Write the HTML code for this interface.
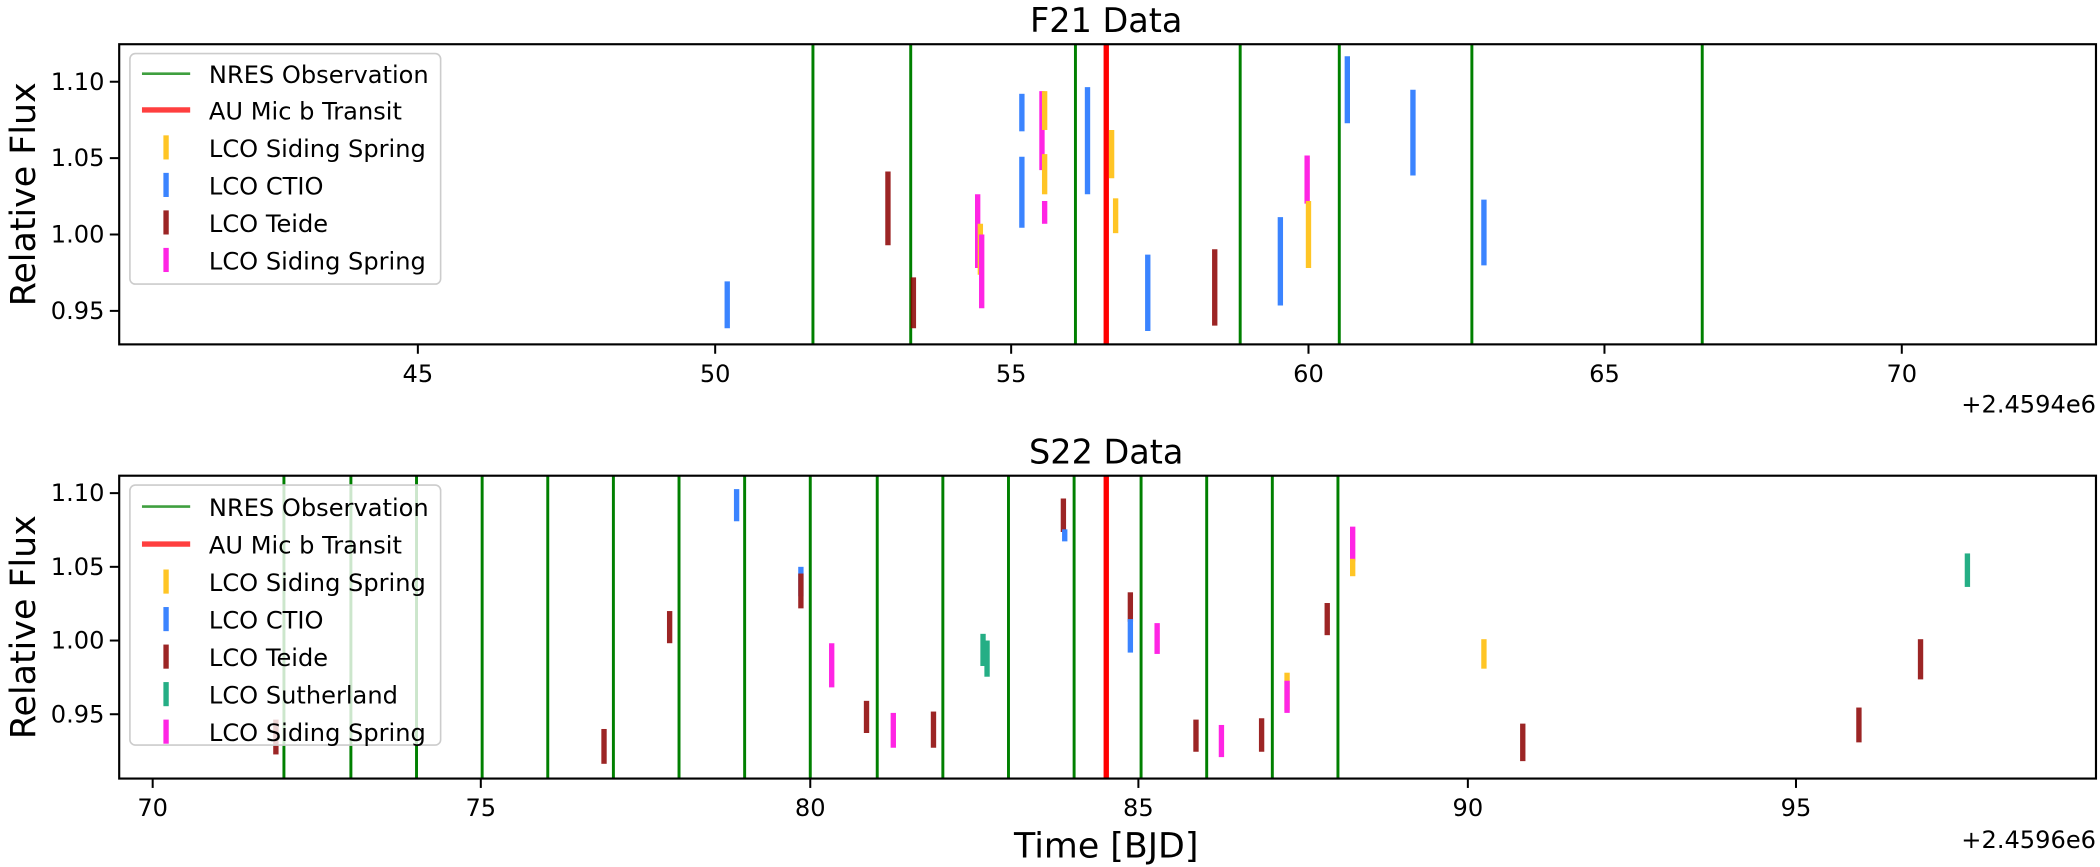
<!DOCTYPE html>
<html><head><meta charset="utf-8"><style>body{margin:0;background:#fff}svg{display:block}text{font-family:"DejaVu Sans","Liberation Sans",sans-serif;fill:#000}</style></head>
<body>
<svg width="2100" height="867" viewBox="0 0 1568 647" preserveAspectRatio="none" xmlns="http://www.w3.org/2000/svg">
<!-- TOP PANEL -->
<text x="826" y="24" font-size="25" text-anchor="middle">F21 Data</text>
<g stroke="#008000" stroke-width="2.2">
<line x1="607" y1="33" x2="607" y2="257"/><line x1="680" y1="33" x2="680" y2="257"/><line x1="803" y1="33" x2="803" y2="257"/><line x1="926" y1="33" x2="926" y2="257"/><line x1="1000" y1="33" x2="1000" y2="257"/><line x1="1099" y1="33" x2="1099" y2="257"/><line x1="1271" y1="33" x2="1271" y2="257"/>
</g>
<line x1="826" y1="33" x2="826" y2="257" stroke="#ff0000" stroke-width="4"/>
<g stroke-width="4" opacity="0.85">
<line x1="543" y1="210" x2="543" y2="245" stroke="#1a6fff"/>
<line x1="663" y1="128" x2="663" y2="183" stroke="#8b0000"/>
<line x1="682" y1="207" x2="682" y2="245" stroke="#8b0000"/>
<line x1="730" y1="145" x2="730" y2="200" stroke="#ff00e0"/>
<line x1="732" y1="167" x2="732" y2="205" stroke="#ffbb00"/>
<line x1="733" y1="175" x2="733" y2="230" stroke="#ff00e0"/>
<line x1="763" y1="70" x2="763" y2="98" stroke="#1a6fff"/>
<line x1="763" y1="117" x2="763" y2="170" stroke="#1a6fff"/>
<line x1="778" y1="68" x2="778" y2="127" stroke="#ff00e0"/>
<line x1="780" y1="68" x2="780" y2="97" stroke="#ffbb00"/>
<line x1="780" y1="115" x2="780" y2="145" stroke="#ffbb00"/>
<line x1="780" y1="150" x2="780" y2="167" stroke="#ff00e0"/>
<line x1="812" y1="65" x2="812" y2="145" stroke="#1a6fff"/>
<line x1="830" y1="97" x2="830" y2="133" stroke="#ffbb00"/>
<line x1="833" y1="148" x2="833" y2="174" stroke="#ffbb00"/>
<line x1="857" y1="190" x2="857" y2="247" stroke="#1a6fff"/>
<line x1="907" y1="186" x2="907" y2="243" stroke="#8b0000"/>
<line x1="956" y1="162" x2="956" y2="228" stroke="#1a6fff"/>
<line x1="976" y1="116" x2="976" y2="152" stroke="#ff00e0"/>
<line x1="977" y1="150" x2="977" y2="200" stroke="#ffbb00"/>
<line x1="1006" y1="42" x2="1006" y2="92" stroke="#1a6fff"/>
<line x1="1055" y1="67" x2="1055" y2="131" stroke="#1a6fff"/>
<line x1="1108" y1="149" x2="1108" y2="198" stroke="#1a6fff"/>
</g>
<rect x="89" y="33" width="1476" height="224" fill="none" stroke="#000" stroke-width="1.6"/>
<g stroke="#000" stroke-width="1.5">
<line x1="89" y1="61" x2="82" y2="61"/><line x1="89" y1="118" x2="82" y2="118"/><line x1="89" y1="175" x2="82" y2="175"/><line x1="89" y1="232" x2="82" y2="232"/>
<line x1="312" y1="257" x2="312" y2="264"/><line x1="534" y1="257" x2="534" y2="264"/><line x1="755" y1="257" x2="755" y2="264"/><line x1="977" y1="257" x2="977" y2="264"/><line x1="1198" y1="257" x2="1198" y2="264"/><line x1="1420" y1="257" x2="1420" y2="264"/>
</g>
<g font-size="18" text-anchor="end">
<text x="78" y="67">1.10</text><text x="78" y="124">1.05</text><text x="78" y="181">1.00</text><text x="78" y="238">0.95</text>
</g>
<g font-size="18" text-anchor="middle">
<text x="312" y="285">45</text><text x="534" y="285">50</text><text x="755" y="285">55</text><text x="977" y="285">60</text><text x="1198" y="285">65</text><text x="1420" y="285">70</text>
</g>
<text x="1565" y="308" font-size="18" text-anchor="end">+2.4594e6</text>
<text transform="translate(26,145) rotate(-90)" font-size="26" text-anchor="middle">Relative Flux</text>
<rect x="97" y="40" width="232" height="172" rx="4" fill="#fff" fill-opacity="0.8" stroke="#ccc" stroke-width="1.2"/>
<g font-size="18">
<line x1="106" y1="55" x2="142" y2="55" stroke="#008000" stroke-width="2" opacity="0.75"/><text x="156" y="62">NRES Observation</text>
<line x1="106" y1="82" x2="142" y2="82" stroke="#ff0000" stroke-width="4" opacity="0.75"/><text x="156" y="89">AU Mic b Transit</text>
<line x1="124" y1="101" x2="124" y2="119" stroke="#ffbb00" stroke-width="4" opacity="0.85"/><text x="156" y="117">LCO Siding Spring</text>
<line x1="124" y1="129" x2="124" y2="147" stroke="#1a6fff" stroke-width="4" opacity="0.85"/><text x="156" y="145">LCO CTIO</text>
<line x1="124" y1="157" x2="124" y2="175" stroke="#8b0000" stroke-width="4" opacity="0.85"/><text x="156" y="173">LCO Teide</text>
<line x1="124" y1="185" x2="124" y2="203" stroke="#ff00e0" stroke-width="4" opacity="0.85"/><text x="156" y="201">LCO Siding Spring</text>
</g>

<!-- BOTTOM PANEL -->
<text x="826" y="346" font-size="25" text-anchor="middle">S22 Data</text>
<g stroke="#008000" stroke-width="2.2">
<line x1="212" y1="355" x2="212" y2="581"/><line x1="262" y1="355" x2="262" y2="581"/><line x1="311" y1="355" x2="311" y2="581"/><line x1="360" y1="355" x2="360" y2="581"/><line x1="409" y1="355" x2="409" y2="581"/><line x1="458" y1="355" x2="458" y2="581"/><line x1="507" y1="355" x2="507" y2="581"/><line x1="556" y1="355" x2="556" y2="581"/><line x1="605" y1="355" x2="605" y2="581"/><line x1="655" y1="355" x2="655" y2="581"/><line x1="704" y1="355" x2="704" y2="581"/><line x1="753" y1="355" x2="753" y2="581"/><line x1="802" y1="355" x2="802" y2="581"/><line x1="852" y1="355" x2="852" y2="581"/><line x1="901" y1="355" x2="901" y2="581"/><line x1="950" y1="355" x2="950" y2="581"/><line x1="999" y1="355" x2="999" y2="581"/>
</g>
<line x1="826" y1="355" x2="826" y2="581" stroke="#ff0000" stroke-width="4"/>
<g stroke-width="4" opacity="0.85">
<line x1="206" y1="537" x2="206" y2="563" stroke="#8b0000"/>
<line x1="451" y1="544" x2="451" y2="570" stroke="#8b0000"/>
<line x1="500" y1="456" x2="500" y2="480" stroke="#8b0000"/>
<line x1="550" y1="365" x2="550" y2="389" stroke="#1a6fff"/>
<line x1="598" y1="423" x2="598" y2="445" stroke="#1a6fff"/>
<line x1="598" y1="428" x2="598" y2="454" stroke="#8b0000"/>
<line x1="621" y1="480" x2="621" y2="513" stroke="#ff00e0"/>
<line x1="647" y1="523" x2="647" y2="547" stroke="#8b0000"/>
<line x1="667" y1="532" x2="667" y2="558" stroke="#ff00e0"/>
<line x1="697" y1="531" x2="697" y2="558" stroke="#8b0000"/>
<line x1="734" y1="473" x2="734" y2="497" stroke="#00a070"/>
<line x1="737" y1="478" x2="737" y2="505" stroke="#00a070"/>
<line x1="794" y1="372" x2="794" y2="397" stroke="#8b0000"/>
<line x1="795" y1="395" x2="795" y2="404" stroke="#1a6fff"/>
<line x1="844" y1="442" x2="844" y2="464" stroke="#8b0000"/>
<line x1="844" y1="462" x2="844" y2="487" stroke="#1a6fff"/>
<line x1="864" y1="465" x2="864" y2="488" stroke="#ff00e0"/>
<line x1="893" y1="537" x2="893" y2="561" stroke="#8b0000"/>
<line x1="912" y1="541" x2="912" y2="565" stroke="#ff00e0"/>
<line x1="942" y1="536" x2="942" y2="561" stroke="#8b0000"/>
<line x1="961" y1="502" x2="961" y2="530" stroke="#ffbb00"/>
<line x1="961" y1="508" x2="961" y2="532" stroke="#ff00e0"/>
<line x1="991" y1="450" x2="991" y2="474" stroke="#8b0000"/>
<line x1="1010" y1="393" x2="1010" y2="419" stroke="#ff00e0"/>
<line x1="1010" y1="417" x2="1010" y2="430" stroke="#ffbb00"/>
<line x1="1108" y1="477" x2="1108" y2="499" stroke="#ffbb00"/>
<line x1="1137" y1="540" x2="1137" y2="568" stroke="#8b0000"/>
<line x1="1388" y1="528" x2="1388" y2="554" stroke="#8b0000"/>
<line x1="1434" y1="477" x2="1434" y2="507" stroke="#8b0000"/>
<line x1="1469" y1="413" x2="1469" y2="438" stroke="#00a070"/>
</g>
<rect x="89" y="355" width="1476" height="226" fill="none" stroke="#000" stroke-width="1.6"/>
<g stroke="#000" stroke-width="1.5">
<line x1="89" y1="368" x2="82" y2="368"/><line x1="89" y1="423" x2="82" y2="423"/><line x1="89" y1="478" x2="82" y2="478"/><line x1="89" y1="533" x2="82" y2="533"/>
<line x1="114" y1="581" x2="114" y2="588"/><line x1="359" y1="581" x2="359" y2="588"/><line x1="605" y1="581" x2="605" y2="588"/><line x1="850" y1="581" x2="850" y2="588"/><line x1="1096" y1="581" x2="1096" y2="588"/><line x1="1341" y1="581" x2="1341" y2="588"/>
</g>
<g font-size="18" text-anchor="end">
<text x="78" y="374">1.10</text><text x="78" y="429">1.05</text><text x="78" y="484">1.00</text><text x="78" y="539">0.95</text>
</g>
<g font-size="18" text-anchor="middle">
<text x="114" y="609">70</text><text x="359" y="609">75</text><text x="605" y="609">80</text><text x="850" y="609">85</text><text x="1096" y="609">90</text><text x="1341" y="609">95</text>
</g>
<text x="1565" y="633" font-size="18" text-anchor="end">+2.4596e6</text>
<text x="826" y="640" font-size="26" text-anchor="middle">Time [BJD]</text>
<text transform="translate(26,468) rotate(-90)" font-size="26" text-anchor="middle">Relative Flux</text>
<rect x="97" y="362" width="232" height="194" rx="4" fill="#fff" fill-opacity="0.8" stroke="#ccc" stroke-width="1.2"/>
<g font-size="18">
<line x1="106" y1="378" x2="142" y2="378" stroke="#008000" stroke-width="2" opacity="0.75"/><text x="156" y="385">NRES Observation</text>
<line x1="106" y1="406" x2="142" y2="406" stroke="#ff0000" stroke-width="4" opacity="0.75"/><text x="156" y="413">AU Mic b Transit</text>
<line x1="124" y1="425" x2="124" y2="443" stroke="#ffbb00" stroke-width="4" opacity="0.85"/><text x="156" y="441">LCO Siding Spring</text>
<line x1="124" y1="453" x2="124" y2="471" stroke="#1a6fff" stroke-width="4" opacity="0.85"/><text x="156" y="469">LCO CTIO</text>
<line x1="124" y1="481" x2="124" y2="499" stroke="#8b0000" stroke-width="4" opacity="0.85"/><text x="156" y="497">LCO Teide</text>
<line x1="124" y1="509" x2="124" y2="527" stroke="#00a070" stroke-width="4" opacity="0.85"/><text x="156" y="525">LCO Sutherland</text>
<line x1="124" y1="537" x2="124" y2="555" stroke="#ff00e0" stroke-width="4" opacity="0.85"/><text x="156" y="553">LCO Siding Spring</text>
</g>
</svg>
</body></html>
